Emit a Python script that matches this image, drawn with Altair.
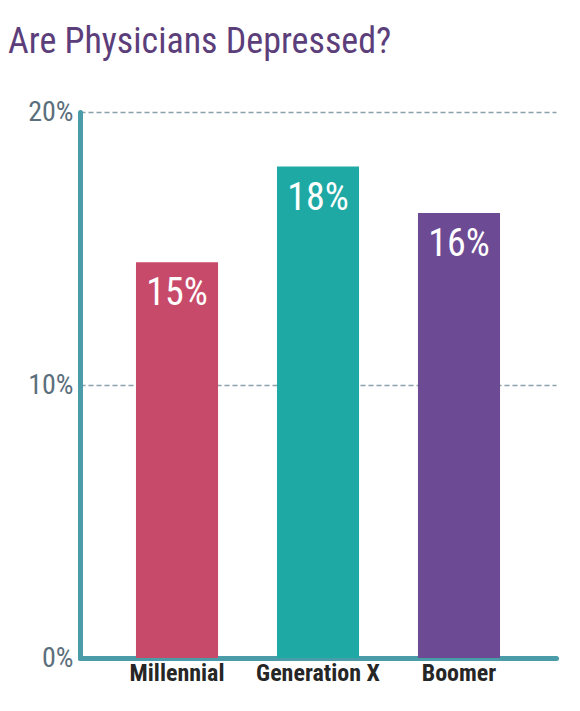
import altair as alt
import pandas as pd

categories = ["Millennial", "Generation X", "Boomer"]
values = [14.5, 18.0, 16.3]
labels = ["15%", "18%", "16%"]
colors = ["#c84a6a", "#1fa9a5", "#6d4a94"]
y_ticks = [0, 10, 20]

df = pd.DataFrame({"cat": categories, "val": values, "lab": labels})

FONT = "Roboto Condensed, Liberation Sans Narrow, DejaVu Sans Condensed, Roboto"
TEAL = "#4a9ca9"

x = alt.X("cat:N", sort=categories, title=None,
          scale=alt.Scale(paddingInner=0.418, paddingOuter=0.397),
          axis=alt.Axis(labelAngle=0, labelFontSize=24, labelFontWeight="bold",
                        labelColor="#262626", labelFont=FONT, labelPadding=3,
                        ticks=False, domainColor=TEAL, domainWidth=5,
                        domainCap="round", grid=False))
y = alt.Y("val:Q", title=None,
          scale=alt.Scale(domain=[0, 20], nice=False),
          axis=alt.Axis(values=y_ticks, labelExpr="datum.value + '%'",
                        labelFontSize=28, labelColor="#5b6f7d", labelFont=FONT,
                        labelPadding=7, ticks=False, domainColor=TEAL,
                        domainWidth=5, domainCap="round", gridColor="#8aa0aa",
                        gridDash=[5, 3], gridWidth=1.5))

bars = alt.Chart(df).mark_bar().encode(
    x=x, y=y,
    color=alt.Color("cat:N", scale=alt.Scale(domain=categories, range=colors), legend=None),
)
text = alt.Chart(df).mark_text(color="white", fontSize=38, font=FONT,
                               baseline="alphabetic", dy=43).encode(
    x=alt.X("cat:N", sort=categories), y="val:Q", text="lab:N")

chart = (bars + text).properties(
    width=476, height=546,
    autosize=alt.AutoSizeParams(type="none"),
    padding={"left": 72, "top": 104, "right": 14, "bottom": 45},
    title=alt.TitleParams("Are Physicians Depressed?", anchor="start", frame="group",
                          fontSize=36, font=FONT, fontWeight="normal",
                          color="#5b3e7a", dx=-72, offset=37),
).configure_view(stroke=None)

chart.save("out.html", embed_options={"renderer": "svg", "actions": False})
